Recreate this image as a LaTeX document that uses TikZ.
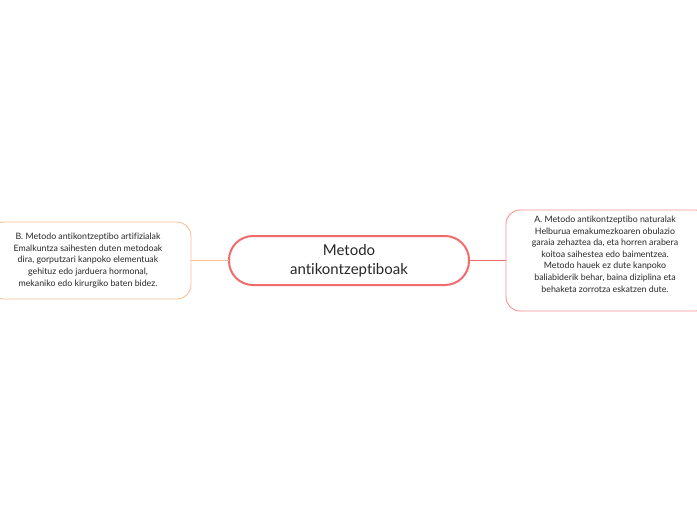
\documentclass[tikz,border=0pt]{standalone}
\usepackage{fontspec}
\setmainfont{Lato}[Ligatures={NoCommon}]
\definecolor{cred}{HTML}{F26B6B}
\definecolor{lred}{HTML}{F99090}
\definecolor{lorg}{HTML}{F9BE92}
\begin{document}
\begin{tikzpicture}[x=1pt,y=-1pt,
  small/.style={font=\fontsize{8.8}{11.6}\selectfont,align=center,text=black!85}]
\useasboundingbox (0,0) rectangle (697,520);
\draw[cred,line width=2pt,rounded corners=24pt] (229,236) rectangle (469,285);
\node (c) at (349,260.5) [font=\fontsize{15}{19}\selectfont,align=center,text=black!85] {Metodo\\antikontzeptiboak};
\coordinate (cl) at (229,260.5); \coordinate (cr) at (469,260.5);
\draw[lorg,line width=0.9pt,rounded corners=14pt] (-10,222) rectangle (191,299);
\node (l) at (88,260.5) [small] {B. Metodo antikontzeptibo artifizialak\\Emalkuntza saihesten duten metodoak\\dira, gorputzari kanpoko elementuak\\gehituz edo jarduera hormonal,\\mekaniko edo kirurgiko baten bidez.};
\coordinate (lr) at (191,260.5);
\draw[lred,line width=0.9pt,rounded corners=14pt] (506,210) rectangle (710,311);
\node (r) at (605,254) [small] {A. Metodo antikontzeptibo naturalak\\Helburua emakumezkoaren obulazio\\garaia zehaztea da, eta horren arabera\\koitoa saihestea edo baimentzea.\\Metodo hauek ez dute kanpoko\\baliabiderik behar, baina diziplina eta\\behaketa zorrotza eskatzen dute.};
\coordinate (rl) at (506,260.5);
\draw[lorg,line width=1.2pt] (cl) -- (lr);
\draw[cred,line width=1.2pt] (cr) -- (rl);
\end{tikzpicture}
\end{document}
